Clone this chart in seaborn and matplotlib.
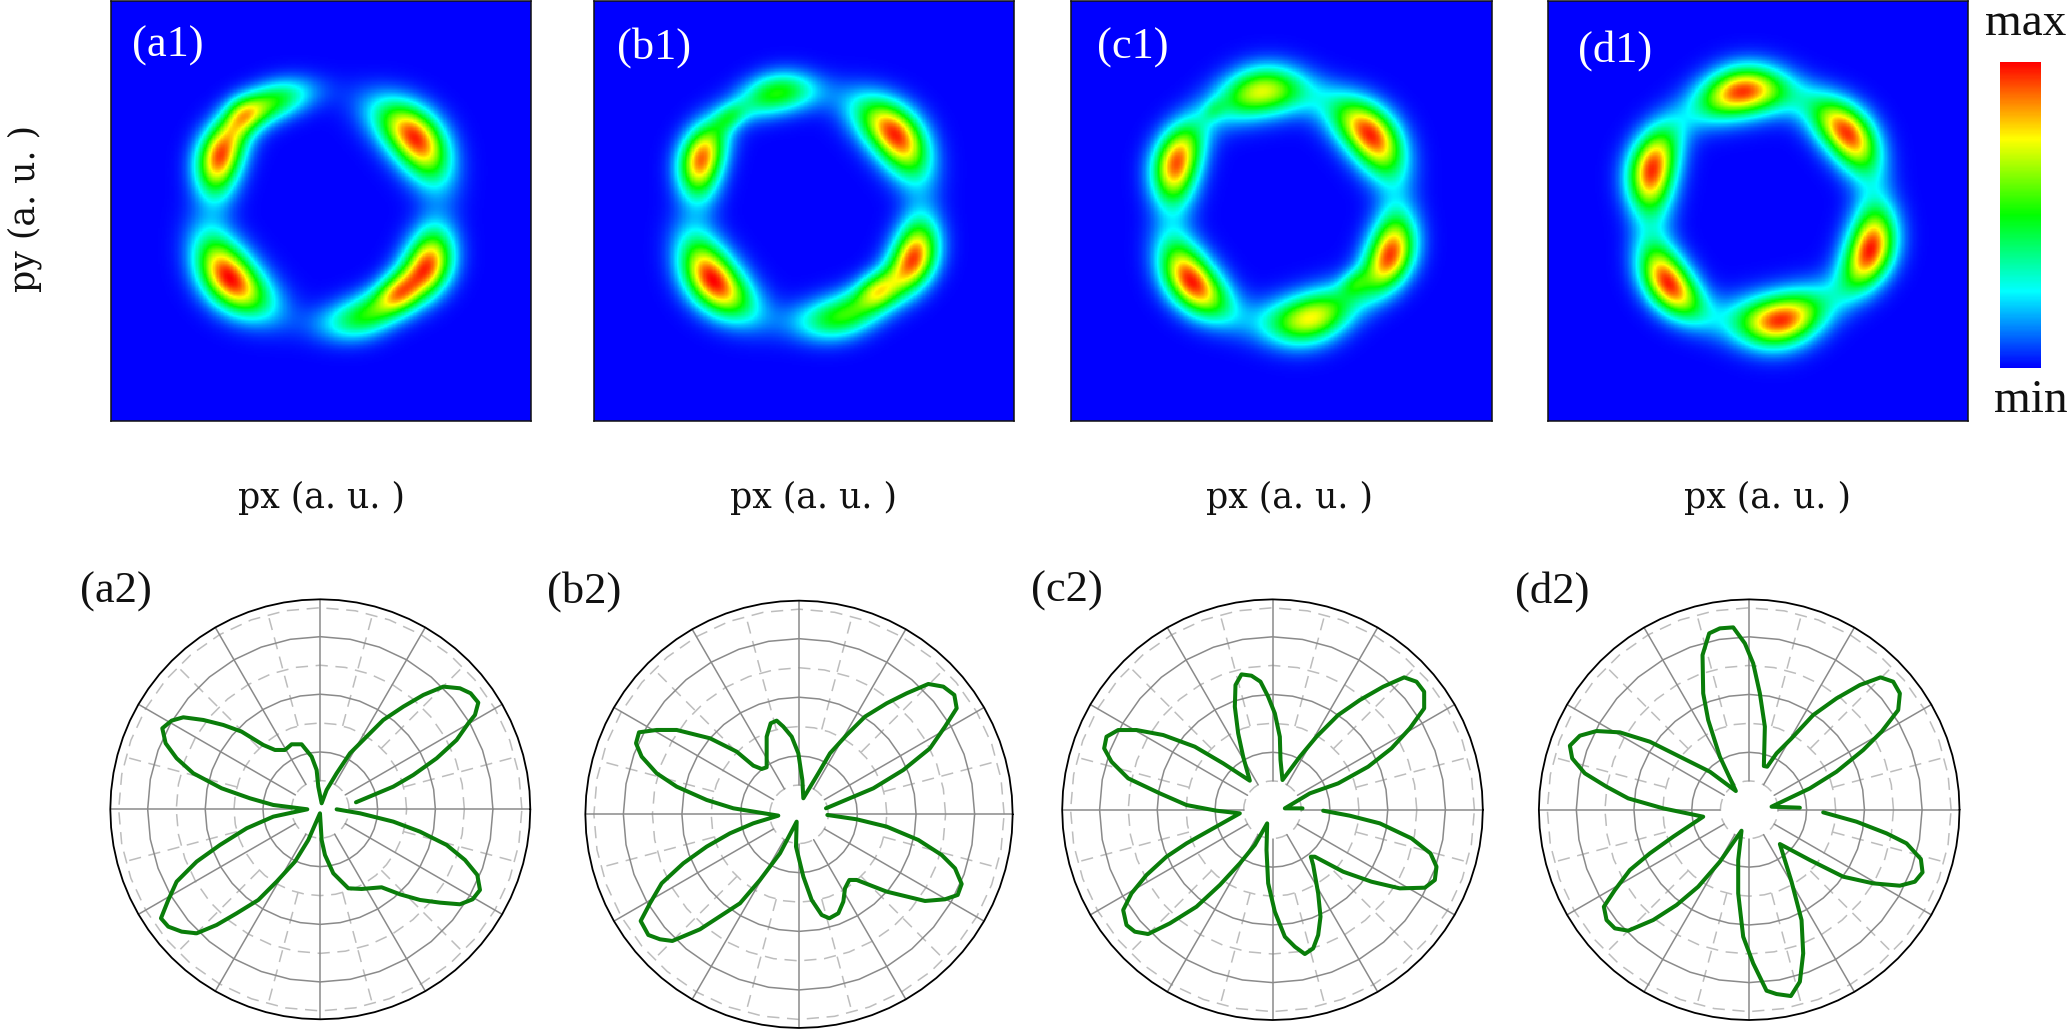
import numpy as np
import matplotlib
matplotlib.use("Agg")
import matplotlib.pyplot as plt
from matplotlib.colors import LinearSegmentedColormap
import seaborn as sns

W, H = 2067, 1029

# ---------- top row: lobes of the momentum maps (panel fractions, from top left) ----------
a1_cx = [.724, .260, .379, .283, .752, .609, .315, .680]
a1_cy = [.327, .370, .244, .660, .632, .747, .268, .695]
a1_long = [.075, .064, .068, .075, .062, .072, .035, .038]
a1_short = [.042, .036, .031, .042, .038, .034, .028, .030]
a1_tilt = [50, -72, -25, 50, -65, -22, -40, -40]
a1_amp = [.97, .92, .50, 1.0, .92, .50, .36, .42]

b1_cx = [.717, .256, .435, .284, .760, .594, .324, .673]
b1_cy = [.319, .377, .220, .665, .613, .748, .276, .688]
b1_long = [.075, .062, .066, .075, .064, .076, .030, .036]
b1_short = [.041, .035, .033, .041, .036, .035, .020, .028]
b1_tilt = [50, -75, -12, 52, -68, -18, -35, -35]
b1_amp = [.97, .90, .52, 1.0, .93, .54, .25, .42]

c1_cx = [.453, .711, .251, .287, .758, .568, .672, .339]
c1_cy = [.216, .319, .386, .668, .604, .755, .672, .260]
c1_long = [.074, .075, .068, .073, .068, .074, .026, .022]
c1_short = [.040, .041, .037, .039, .037, .040, .020, .016]
c1_tilt = [-10, 50, -75, 52, -70, -17, -40, -40]
c1_amp = [.72, .97, .92, .98, .94, .75, .22, .14]

d1_cx = [.463, .712, .248, .287, .767, .553]
d1_cy = [.216, .315, .402, .672, .592, .760]
d1_long = [.074, .072, .072, .070, .072, .074]
d1_short = [.040, .039, .038, .037, .038, .042]
d1_tilt = [-10, 50, -78, 55, -72, -12]
d1_amp = [.95, .95, .96, .97, .98, .96]

map_labels = ["(a1)", "(b1)", "(c1)", "(d1)"]
polar_labels = ["(a2)", "(b2)", "(c2)", "(d2)"]
x_label = "px (a. u. )"
y_label = "py (a. u. )"
cbar_high, cbar_low = "max", "min"

# ---------- bottom row: angular distributions, px and py on a scale where the rim is rim_* ----------
rim_a, rim_b, rim_c, rim_d = 630, 641, 631, 631
a2_x = [107,219,279,349,409,444,464,474,451,419,369,309,249,189,139,89,49,19,4,-6,-11,-26,-56,-86,-106,-136,-171,-236,-291,-351,-411,-446,-474,-464,-431,-381,-296,-211,-141,-39,-141,-221,-301,-371,-431,-456,-478,-456,-416,-371,-311,-251,-186,-131,-76,-36,-1,4,14,39,84,124,184,239,299,359,419,457,479,471,434,379,299,219,119,49]
a2_y = [21,68,103,153,208,258,283,320,348,363,368,343,308,268,218,168,108,58,18,68,118,158,195,195,178,178,193,233,253,268,276,266,243,198,153,108,63,33,13,0,-22,-57,-107,-157,-217,-272,-327,-352,-367,-372,-347,-312,-272,-217,-157,-92,-12,-92,-137,-192,-237,-239,-234,-255,-272,-280,-285,-270,-242,-197,-152,-107,-67,-37,-12,0]
b2_x = [81,223,313,393,438,473,466,433,388,323,263,198,143,93,58,13,10,-2,-22,-47,-67,-85,-97,-97,-112,-137,-187,-267,-367,-427,-480,-489,-472,-427,-367,-277,-197,-62,-137,-207,-277,-347,-412,-447,-475,-452,-417,-380,-297,-177,-117,-57,-7,-9,13,38,68,91,118,133,138,151,173,263,378,438,476,488,468,428,358,263,173,85]
b2_y = [18,78,133,198,263,318,358,383,391,363,333,293,238,183,123,48,103,183,233,263,281,273,233,141,136,146,188,228,253,253,246,213,173,123,83,43,18,-4,-27,-57,-97,-147,-207,-267,-320,-362,-375,-380,-345,-267,-197,-117,-22,-97,-187,-257,-302,-312,-297,-262,-222,-197,-197,-232,-260,-255,-242,-209,-162,-122,-77,-37,-15,-2]
c2_x = [90,37,112,197,287,357,412,455,455,432,395,332,262,197,132,82,30,24,22,7,-13,-36,-63,-93,-111,-113,-103,-88,-68,-148,-233,-328,-408,-463,-498,-505,-483,-433,-338,-258,-168,-98,-178,-258,-318,-378,-423,-448,-438,-413,-373,-308,-228,-158,-98,-53,-16,-18,-13,7,37,67,97,122,137,144,137,122,115,127,212,297,382,457,487,492,474,417,322,232,152]
c2_y = [4,4,49,79,129,184,244,304,354,384,397,369,329,284,219,159,89,149,219,289,339,384,402,406,374,309,229,159,87,139,189,224,239,239,219,184,144,94,49,14,-3,-11,-56,-101,-141,-196,-251,-301,-346,-366,-373,-341,-291,-226,-161,-106,-41,-121,-221,-306,-381,-411,-433,-416,-376,-321,-251,-166,-141,-141,-186,-216,-236,-234,-211,-171,-131,-86,-41,-18,-3]
d2_x = [152,67,182,262,342,397,447,452,432,394,332,262,192,127,82,54,44,47,32,12,-13,-48,-88,-120,-140,-138,-123,-88,-40,-118,-208,-298,-388,-458,-508,-538,-531,-493,-428,-363,-258,-138,-228,-298,-358,-403,-436,-428,-403,-363,-288,-218,-153,-88,-23,-33,-33,-18,12,52,82,125,152,162,157,127,92,182,282,372,452,497,520,515,472,412,322,222]
d2_y = [6,9,64,114,179,234,299,349,384,397,374,334,284,214,169,129,131,249,349,439,499,547,544,529,464,349,269,159,56,114,159,204,232,236,222,192,154,109,69,34,4,-21,-81,-131,-181,-241,-291,-331,-356,-363,-331,-286,-231,-156,-63,-151,-251,-381,-461,-543,-553,-559,-516,-431,-331,-216,-103,-151,-201,-221,-228,-216,-188,-148,-101,-71,-36,-8]

# ---------- layout (pixels of the output image) ----------
MAP_BOXES = [(111, 531), (594, 1014), (1071, 1492), (1548, 1968)]
MAP_TOP, MAP_BOTTOM = 1, 421
POLAR_CENTRES = [(320.3, 809.3), (799, 814.3), (1272.5, 809.7), (1749.2, 809.7)]
MAP_LABEL_POS = [(132, 57), (617, 59), (1097, 59), (1578, 62)]
POLAR_LABEL_POS = [(80, 603), (547, 603), (1031, 602), (1515, 603)]
XLABEL_CENTRES = [321, 813, 1290, 1768]
SERIF = "Liberation Serif"
GREEN = "#0a7d0a"
SOLID_RINGS = [.273, .548, .822]
DASH_RINGS = [.137, .411, .686, .960]
BEND = .45

sns.set_style("white")
rainbow = LinearSegmentedColormap.from_list(
    "rainbow5", ["#0000ff", "#00ffff", "#00ff00", "#ffff00", "#ff0000"], N=512)

fig = plt.figure(figsize=(W / 100, H / 100), dpi=100, facecolor="white")


def box(x0, y0, x1, y1):
    return [x0 / W, 1 - y1 / H, (x1 - x0) / W, (y1 - y0) / H]


def put(x, y, s, **kw):
    fig.text(x / W, 1 - y / H, s, **kw)


def field(cx, cy, long_, short, tilt, amp, n=320):
    g = (np.arange(n) + .5) / n
    X, Y = np.meshgrid(g, g)
    Z = np.zeros_like(X)
    for x0, y0, sl, ss, t, a in zip(cx, cy, long_, short, tilt, amp):
        th = np.deg2rad(t)
        u = (X - x0) * np.cos(th) + (Y - y0) * np.sin(th)
        v = -(X - x0) * np.sin(th) + (Y - y0) * np.cos(th)
        # the lobes follow the ring, so their long axis bends towards its middle
        side = np.sign(-np.sin(th) * (.5 - x0) + np.cos(th) * (.5 - y0))
        v = v - side * u ** 2 / (2 * BEND)
        Z += a * np.exp(-.5 * ((u / sl) ** 2 + (v / ss) ** 2))
    return np.clip(Z, 0, 1)


maps = [
    field(a1_cx, a1_cy, a1_long, a1_short, a1_tilt, a1_amp),
    field(b1_cx, b1_cy, b1_long, b1_short, b1_tilt, b1_amp),
    field(c1_cx, c1_cy, c1_long, c1_short, c1_tilt, c1_amp),
    field(d1_cx, d1_cy, d1_long, d1_short, d1_tilt, d1_amp),
]
for (x0, x1), Z, lab, (lx, ly), xc in zip(MAP_BOXES, maps, map_labels, MAP_LABEL_POS, XLABEL_CENTRES):
    ax = fig.add_axes(box(x0, MAP_TOP, x1, MAP_BOTTOM))
    sns.heatmap(Z, ax=ax, cmap=rainbow, vmin=0, vmax=1, cbar=False,
                xticklabels=False, yticklabels=False, rasterized=True)
    for s in ax.spines.values():
        s.set_visible(True)
        s.set_color("#111111")
        s.set_linewidth(1.1)
    put(lx, ly, lab, color="white", family=SERIF, fontsize=32, va="baseline", ha="left", zorder=10)
    put(xc, 508, x_label, color="#111111", family="DejaVu Serif", fontsize=25, va="baseline", ha="center")

put(25, 208, y_label, color="#111111", family="DejaVu Serif", fontsize=25, rotation=90,
    va="center", ha="center")

# colour bar
cax = fig.add_axes(box(2000, 62, 2041, 368))
sns.heatmap(np.linspace(1, 0, 256)[:, None], ax=cax, cmap=rainbow, vmin=0, vmax=1, cbar=False,
            xticklabels=False, yticklabels=False)
put(1985, 35, cbar_high, family=SERIF, fontsize=34, color="#111111", va="baseline", ha="left")
put(1994, 412, cbar_low, family=SERIF, fontsize=34, color="#111111", va="baseline", ha="left")

# polar panels
curves = [(a2_x, a2_y, rim_a), (b2_x, b2_y, rim_b), (c2_x, c2_y, rim_c), (d2_x, d2_y, rim_d)]
for (px, py, rim), (cx, cy), lab, (lx, ly) in zip(curves, POLAR_CENTRES, polar_labels, POLAR_LABEL_POS):
    R = rim / 3
    ax = fig.add_axes(box(cx - R, cy - R, cx + R, cy + R), projection="polar")
    ax.set_rlim(0, rim)
    ax.grid(False)
    ax.set_xticks([])
    ax.set_yticks([])
    ax.spines["polar"].set_visible(False)
    ax.patch.set_alpha(0)
    ring_t = np.deg2rad(np.arange(0, 361, 10))
    rim_t = np.deg2rad(np.arange(0, 361, 5))
    for f in DASH_RINGS:
        ax.plot(ring_t, np.full_like(ring_t, f * rim), color="#bdbdbd", lw=1.1,
                dashes=(8, 5), zorder=1)
    for deg in range(15, 360, 30):
        ax.plot(np.deg2rad([deg, deg]), [DASH_RINGS[1] * rim, DASH_RINGS[3] * rim], color="#bdbdbd",
                lw=1.1, dashes=(8, 5), zorder=1)
    for f in SOLID_RINGS:
        ax.plot(ring_t, np.full_like(ring_t, f * rim), color="#8a8a8a", lw=1.1, zorder=2)
    for deg in range(0, 360, 30):
        ax.plot(np.deg2rad([deg, deg]), [DASH_RINGS[0] * rim, rim], color="#8a8a8a", lw=1.1, zorder=2)
    ax.plot(rim_t, np.full_like(rim_t, rim), color="black", lw=1.3, zorder=3, clip_on=False)
    theta = np.arctan2(py, px)
    radius = np.hypot(px, py)
    sns.lineplot(x=theta, y=radius, ax=ax, sort=False, estimator=None, color=GREEN, lw=2.9, zorder=5)
    ax.set_xlabel("")
    ax.set_ylabel("")
    ax.set_rlim(0, rim)
    put(lx, ly, lab, family=SERIF, fontsize=32, color="#111111", va="baseline", ha="left")

fig.savefig("out.png", dpi=100)
